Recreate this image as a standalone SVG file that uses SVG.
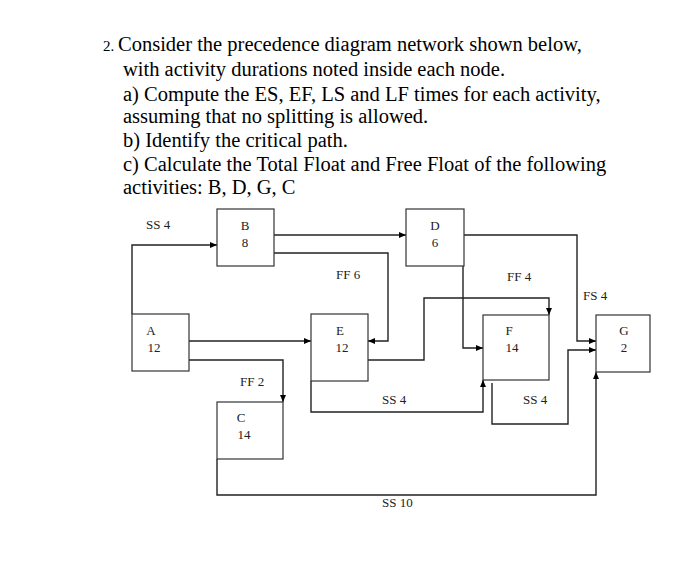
<svg xmlns="http://www.w3.org/2000/svg" width="700" height="571" viewBox="0 0 700 571">
<defs><marker id="a" markerWidth="8" markerHeight="8" refX="7" refY="4" orient="auto" markerUnits="userSpaceOnUse"><path d="M0,1 L7,4 L0,7 Z" fill="#000"/></marker></defs>
<style>
.t{font-family:"Liberation Serif",serif;font-size:20.5px;fill:#000}
.n{font-family:"Liberation Serif",serif;font-size:13px;fill:#222;text-anchor:middle}
.l{font-family:"Liberation Serif",serif;font-size:13px;fill:#222}
rect{fill:#fff;stroke:#333;stroke-width:1.2}
.c path{fill:none;stroke:#222;stroke-width:1.4}
</style>
<rect x="0" y="0" width="700" height="571" style="stroke:none"/>
<g id="title">
<text x="103" y="51" class="t" style="font-size:15px">2.</text>
<text x="118" y="51" class="t">Consider the precedence diagram network shown below,</text>
<text x="123" y="76" class="t">with activity durations noted inside each node.</text>
<text x="123" y="101" class="t">a) Compute the ES, EF, LS and LF times for each activity,</text>
<text x="123" y="123" class="t">assuming that no splitting is allowed.</text>
<text x="123" y="147" class="t">b) Identify the critical path.</text>
<text x="123" y="171" class="t">c) Calculate the Total Float and Free Float of the following</text>
<text x="123" y="194" class="t">activities: B, D, G, C</text>
</g>
<g class="c" id="connectors">
<path d="M132,314 V245 H217" marker-end="url(#a)"/>
<path d="M274,235 H406" marker-end="url(#a)"/>
<path d="M274,253 H388 V341 H368" marker-end="url(#a)"/>
<path d="M189,341 H311" marker-end="url(#a)"/>
<path d="M189,360 H283 V402" marker-end="url(#a)"/>
<path d="M368,360 H424 V298 H549 V315" marker-end="url(#a)"/>
<path d="M463,266 V348 H483" marker-end="url(#a)"/>
<path d="M464,235 H577 V341 H596" marker-end="url(#a)"/>
<path d="M492,383 V424 H568 V350 H596" marker-end="url(#a)"/>
<path d="M311,381 V412 H483 V380" marker-end="url(#a)"/>
<path d="M217,459 V495 H596 V372" marker-end="url(#a)"/>
</g>
<g id="B"><rect x="217" y="209" width="57" height="57"/><text x="245" y="230" class="n">B</text><text x="245" y="247" class="n">8</text></g>
<g id="D"><rect x="406" y="209" width="58" height="57"/><text x="435" y="230" class="n">D</text><text x="435" y="247" class="n">6</text></g>
<g id="A"><rect x="132" y="314" width="57" height="57"/><text x="151" y="335" class="n">A</text><text x="154" y="352" class="n">12</text></g>
<g id="E"><rect x="311" y="314" width="57" height="67"/><text x="340" y="335" class="n">E</text><text x="342" y="352" class="n">12</text></g>
<g id="F"><rect x="483" y="315" width="66" height="65"/><text x="509" y="335" class="n">F</text><text x="512" y="352" class="n">14</text></g>
<g id="G"><rect x="596" y="315" width="54" height="57"/><text x="624" y="335" class="n">G</text><text x="624" y="352" class="n">2</text></g>
<g id="C"><rect x="217" y="402" width="66" height="57"/><text x="241" y="422" class="n">C</text><text x="244" y="439" class="n">14</text></g>
<g id="labels">
<text x="146" y="229" class="l">SS 4</text>
<text x="336" y="279" class="l">FF 6</text>
<text x="240" y="386" class="l">FF 2</text>
<text x="507" y="281" class="l">FF 4</text>
<text x="583" y="300" class="l">FS 4</text>
<text x="382" y="404" class="l">SS 4</text>
<text x="523" y="404" class="l">SS 4</text>
<text x="382" y="507" class="l">SS 10</text>
</g>
</svg>
